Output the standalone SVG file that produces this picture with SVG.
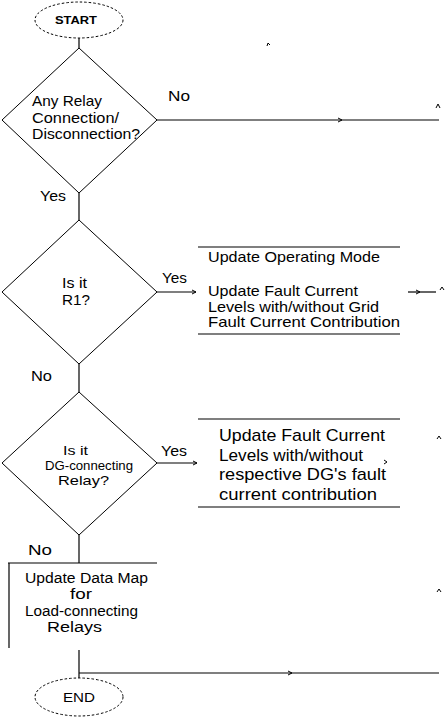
<svg xmlns="http://www.w3.org/2000/svg" width="448" height="723" viewBox="0 0 448 723">
<defs>
<style>
.ln{stroke:#000;stroke-width:1.2;fill:none}
.sh{stroke:#000;stroke-width:1;fill:#fff}
.dash{stroke:#000;stroke-width:1;fill:#fff;stroke-dasharray:2.5 2}
.t{font-family:"Liberation Sans",Arial,sans-serif;fill:#000}
.mk{stroke:#000;stroke-width:1;fill:none}
</style>
<marker id="ah" markerWidth="6" markerHeight="6" refX="5" refY="3" orient="auto" markerUnits="userSpaceOnUse">
<path d="M1,1 L5,3 L1,5" fill="none" stroke="#000" stroke-width="1"/>
</marker>
</defs>
<rect width="448" height="723" fill="#fff"/>

<g id="connectors">
<line class="ln" x1="79" y1="38" x2="79" y2="48"/>
<line class="ln" x1="79" y1="193" x2="79" y2="220"/>
<line class="ln" x1="79" y1="364" x2="79" y2="392"/>
<line class="ln" x1="79" y1="535" x2="79" y2="563"/>
<line class="ln" x1="79" y1="650" x2="79" y2="678"/>
<line class="ln" x1="157" y1="120" x2="342" y2="120" marker-end="url(#ah)"/>
<line class="ln" x1="342" y1="120" x2="439" y2="120"/>
<line class="ln" x1="157" y1="292" x2="196" y2="292" marker-end="url(#ah)"/>
<line class="ln" x1="408" y1="292" x2="420" y2="292" marker-end="url(#ah)"/>
<line class="ln" x1="420" y1="292" x2="436" y2="292"/>
<line class="ln" x1="157" y1="463" x2="197" y2="463" marker-end="url(#ah)"/>
<line class="ln" x1="79" y1="673" x2="292" y2="673" marker-end="url(#ah)"/>
<line class="ln" x1="292" y1="673" x2="439" y2="673"/>
<text class="t" x="168" y="101" font-size="15" textLength="22" lengthAdjust="spacingAndGlyphs">No</text>
<text class="t" x="40" y="201" font-size="15" textLength="26" lengthAdjust="spacingAndGlyphs">Yes</text>
<text class="t" x="162" y="283" font-size="14" textLength="25" lengthAdjust="spacingAndGlyphs">Yes</text>
<text class="t" x="31" y="381" font-size="15" textLength="21" lengthAdjust="spacingAndGlyphs">No</text>
<text class="t" x="161" y="456" font-size="14" textLength="26" lengthAdjust="spacingAndGlyphs">Yes</text>
<text class="t" x="28" y="555" font-size="15" textLength="24" lengthAdjust="spacingAndGlyphs">No</text>
</g>

<g id="start">
<ellipse class="dash" cx="79" cy="20" rx="44" ry="18"/>
<text class="t" x="55" y="24" font-size="11" font-weight="bold" textLength="42" lengthAdjust="spacingAndGlyphs">START</text>
</g>

<g id="decision1">
<polygon class="sh" points="79,48 157,120 79,193 2,120"/>
<text class="t" x="32" y="106" font-size="15" textLength="70" lengthAdjust="spacingAndGlyphs">Any Relay</text>
<text class="t" x="32" y="123" font-size="15" textLength="87" lengthAdjust="spacingAndGlyphs">Connection/</text>
<text class="t" x="32" y="139" font-size="15" textLength="108" lengthAdjust="spacingAndGlyphs">Disconnection?</text>
</g>

<g id="decision2">
<polygon class="sh" points="79,220 157,292 79,364 2,292"/>
<text class="t" x="62" y="288" font-size="15" textLength="25" lengthAdjust="spacingAndGlyphs">Is it</text>
<text class="t" x="62" y="305" font-size="15" textLength="28" lengthAdjust="spacingAndGlyphs">R1?</text>
</g>

<g id="process2">
<line class="ln" x1="198" y1="247" x2="400" y2="247"/>
<line class="ln" x1="198" y1="334" x2="400" y2="334"/>
<text class="t" x="208" y="262" font-size="15" textLength="172" lengthAdjust="spacingAndGlyphs">Update Operating Mode</text>
<text class="t" x="208" y="296" font-size="14.5" textLength="150" lengthAdjust="spacingAndGlyphs">Update Fault Current</text>
<text class="t" x="208" y="312" font-size="14.5" textLength="171" lengthAdjust="spacingAndGlyphs">Levels with/without Grid</text>
<text class="t" x="208" y="327" font-size="14.5" textLength="192" lengthAdjust="spacingAndGlyphs">Fault Current Contribution</text>
</g>

<g id="decision3">
<polygon class="sh" points="79,392 157,463 79,535 2,463"/>
<text class="t" x="63" y="455" font-size="13" textLength="25" lengthAdjust="spacingAndGlyphs">Is it</text>
<text class="t" x="45" y="470" font-size="13" textLength="88" lengthAdjust="spacingAndGlyphs">DG-connecting</text>
<text class="t" x="58" y="485" font-size="13" textLength="51" lengthAdjust="spacingAndGlyphs">Relay?</text>
</g>

<g id="process3">
<line class="ln" x1="198" y1="419" x2="400" y2="419"/>
<line class="ln" x1="198" y1="507" x2="400" y2="507"/>
<text class="t" x="219" y="441" font-size="17" textLength="166" lengthAdjust="spacingAndGlyphs">Update Fault Current</text>
<text class="t" x="219" y="461" font-size="17" textLength="144" lengthAdjust="spacingAndGlyphs">Levels with/without</text>
<text class="t" x="219" y="480" font-size="17" textLength="167" lengthAdjust="spacingAndGlyphs">respective DG's fault</text>
<text class="t" x="219" y="500" font-size="17" textLength="158" lengthAdjust="spacingAndGlyphs">current contribution</text>
</g>

<g id="process4">
<line class="ln" x1="8" y1="563" x2="157" y2="563"/>
<line class="ln" x1="9" y1="563" x2="9" y2="648"/>
<text class="t" x="25" y="583" font-size="14" textLength="123" lengthAdjust="spacingAndGlyphs">Update Data Map</text>
<text class="t" x="70" y="599" font-size="14" textLength="22" lengthAdjust="spacingAndGlyphs">for</text>
<text class="t" x="25" y="616" font-size="14" textLength="113" lengthAdjust="spacingAndGlyphs">Load-connecting</text>
<text class="t" x="47" y="632" font-size="14" textLength="55" lengthAdjust="spacingAndGlyphs">Relays</text>
</g>

<g id="end">
<ellipse class="dash" cx="79" cy="697" rx="44" ry="19"/>
<text class="t" x="63" y="702" font-size="13" textLength="32" lengthAdjust="spacingAndGlyphs">END</text>
</g>

<g id="marks">
<path class="mk" d="M267,46 L268,43 L270,45"/>
<path class="mk" d="M436,108 L438,104 L440,108"/>
<path class="mk" d="M440,290 L442,287 L444,290"/>
<path class="mk" d="M437,439 L439,436 L441,439"/>
<path class="mk" d="M384,460 L387,462 L384,464"/>
<path class="mk" d="M437,592 L439,589 L441,592"/>
</g>
</svg>
